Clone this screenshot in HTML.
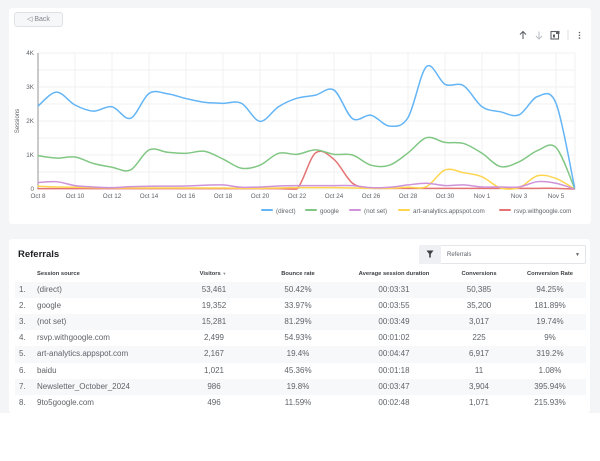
<!DOCTYPE html>
<html><head><meta charset="utf-8">
<style>
*{margin:0;padding:0;box-sizing:border-box}
html,body{width:600px;height:461px;overflow:hidden;background:#fff;font-family:"Liberation Sans",sans-serif}
.bg{position:absolute;left:0;top:0;width:600px;height:413px;background:#f4f5f7}
.card{position:absolute;background:#fff;border-radius:3px}
.abs{position:absolute;white-space:nowrap}
.back{position:absolute;left:14px;top:12px;width:49px;height:15px;border:1px solid #dfe1e5;border-radius:3px;background:#f6f7f9;color:#80868b;font-size:7px;line-height:13px;text-align:center}
.ax{font-size:6.3px;fill:#5f6368;font-family:"Liberation Sans",sans-serif}
.leg{position:absolute;top:208px;font-size:6.3px;color:#5f6368;white-space:nowrap;line-height:8px}
.leg i{display:inline-block;width:12px;height:2px;vertical-align:middle;margin-right:3px;position:relative;top:-1px;border-radius:1px}
.row{position:absolute;left:15px;width:571px;height:16.2px}
.row.s{background:#f7f8fa}
.t{position:absolute;font-size:8px;color:#5f6368;white-space:nowrap;line-height:16px}
.h{position:absolute;font-size:5.8px;font-weight:bold;color:#3c4043;white-space:nowrap;top:271px}
.c{transform:translateX(-50%)}
</style></head><body>
<div class="bg"></div>
<div class="card" style="left:9px;top:8px;width:582px;height:216px"></div>
<div class="card" style="left:9px;top:239px;width:581px;height:174px"></div>

<div class="back">&#9665; Back</div>

<!-- toolbar icons -->
<svg class="abs" style="left:515px;top:28px" width="75" height="15" viewBox="0 0 75 15">
  <g stroke="#5f6368" stroke-width="1.1" fill="none">
    <path d="M8 11 V3.5 M5 6.5 L8 3.5 L11 6.5"/>
  </g>
  <g stroke="#bdc1c6" stroke-width="1.1" fill="none">
    <path d="M24 3.5 V11 M21 8 L24 11 L27 8"/>
  </g>
  <g stroke="#5f6368" stroke-width="1.1" fill="none">
    <rect x="36" y="3.5" width="7.5" height="7.5"/>
  </g>
  <rect x="38" y="6.5" width="2" height="3" fill="#5f6368"/>
  <rect x="41" y="3" width="3.5" height="3" fill="#5f6368"/>
  <line x1="53" y1="2" x2="53" y2="12" stroke="#dadce0" stroke-width="1"/>
  <circle cx="64.5" cy="4.5" r="0.8" fill="#5f6368"/>
  <circle cx="64.5" cy="7.3" r="0.8" fill="#5f6368"/>
  <circle cx="64.5" cy="10.1" r="0.8" fill="#5f6368"/>
</svg>

<!-- chart -->
<svg class="abs" style="left:0;top:0" width="600" height="230" viewBox="0 0 600 230">
  <g stroke="#eeeeee" stroke-width="0.8">
    <line x1="38" x2="575" y1="53" y2="53"/>
    <line x1="38" x2="575" y1="70" y2="70"/>
    <line x1="38" x2="575" y1="87" y2="87"/>
    <line x1="38" x2="575" y1="104" y2="104"/>
    <line x1="38" x2="575" y1="121" y2="121"/>
    <line x1="38" x2="575" y1="138" y2="138"/>
    <line x1="38" x2="575" y1="155" y2="155"/>
    <line x1="38" x2="575" y1="172" y2="172"/>
    <line x1="38" x2="575" y1="189" y2="189"/>
    <g id="vg"></g>
  </g>
  <line x1="38" x2="38" y1="53" y2="189" stroke="#8a8a8a" stroke-width="0.9"/>
  <g class="ax" text-anchor="end">
    <text x="34" y="55">4K</text>
    <text x="34" y="89">3K</text>
    <text x="34" y="123">2K</text>
    <text x="34" y="157">1K</text>
    <text x="34" y="191">0</text>
  </g>
  <text class="ax" transform="translate(19,121) rotate(-90)" text-anchor="middle" style="font-size:6px">Sessions</text>
  <g class="ax" text-anchor="middle" id="xl">
    <text x="38" y="198">Oct 8</text>
    <text x="75" y="198">Oct 10</text>
    <text x="112" y="198">Oct 12</text>
    <text x="149" y="198">Oct 14</text>
    <text x="186" y="198">Oct 16</text>
    <text x="223" y="198">Oct 18</text>
    <text x="260" y="198">Oct 20</text>
    <text x="297" y="198">Oct 22</text>
    <text x="334" y="198">Oct 24</text>
    <text x="371" y="198">Oct 26</text>
    <text x="408" y="198">Oct 28</text>
    <text x="445" y="198">Oct 30</text>
    <text x="482" y="198">Nov 1</text>
    <text x="519" y="198">Nov 3</text>
    <text x="556" y="198">Nov 5</text>
  </g>
  <g fill="none" stroke-width="1.5" stroke-linecap="round" stroke-linejoin="round">
    <path id="p_rsvp" stroke="#e57373"/>
    <path id="p_art" stroke="#ffd54f"/>
    <path id="p_ns" stroke="#ce93d8"/>
    <path id="p_g" stroke="#81c784"/>
    <path id="p_d" stroke="#64b5f6"/>
  </g>
</svg>

<div class="leg" style="left:261px"><i style="background:#64b5f6"></i>(direct)</div>
<div class="leg" style="left:305px"><i style="background:#81c784"></i>google</div>
<div class="leg" style="left:349px"><i style="background:#ce93d8"></i>(not set)</div>
<div class="leg" style="left:398px"><i style="background:#ffd54f"></i>art-analytics.appspot.com</div>
<div class="leg" style="left:499px"><i style="background:#e57373"></i>rsvp.withgoogle.com</div>

<!-- table card -->
<div class="abs" style="left:18px;top:249px;font-size:9.5px;font-weight:bold;color:#202124">Referrals</div>

<div class="abs" style="left:419px;top:245px;width:167px;height:19px;border:1px solid #e3e5e8;border-radius:2px;background:#fff"></div>
<div class="abs" style="left:419px;top:245px;width:22px;height:19px;background:#eef0f3;border-radius:2px 0 0 2px"></div>
<svg class="abs" style="left:425px;top:249px" width="10" height="10" viewBox="0 0 10 10">
  <path d="M1.5 1.5 H8.5 L5.8 5 V8.5 L4.2 8.5 V5 Z" fill="#3c4043"/>
</svg>
<div class="abs" style="left:447px;top:251.5px;font-size:6px;color:#5f6368">Referrals</div>
<div class="abs" style="left:575px;top:252px;font-size:5px;color:#5f6368">&#9660;</div>

<div class="h" style="left:37px">Session source</div>
<div class="h c" style="left:213px">Visitors <span style="font-size:4px;color:#80868b">&#9660;</span></div>
<div class="h c" style="left:298px">Bounce rate</div>
<div class="h c" style="left:394px">Average session duration</div>
<div class="h c" style="left:479px">Conversions</div>
<div class="h c" style="left:550px">Conversion Rate</div>

<div class="row s" style="top:281.6px"></div>
<div class="row" style="top:297.8px"></div>
<div class="row s" style="top:314px"></div>
<div class="row" style="top:330.2px"></div>
<div class="row s" style="top:346.4px"></div>
<div class="row" style="top:362.6px"></div>
<div class="row s" style="top:378.8px"></div>
<div class="row" style="top:395px"></div>

<div id="tbl"></div>

<script>
(function(){
var rows=[
["(direct)","53,461","50.42%","00:03:31","50,385","94.25%"],
["google","19,352","33.97%","00:03:55","35,200","181.89%"],
["(not set)","15,281","81.29%","00:03:49","3,017","19.74%"],
["rsvp.withgoogle.com","2,499","54.93%","00:01:02","225","9%"],
["art-analytics.appspot.com","2,167","19.4%","00:04:47","6,917","319.2%"],
["baidu","1,021","45.36%","00:01:18","11","1.08%"],
["Newsletter_October_2024","986","19.8%","00:03:47","3,904","395.94%"],
["9to5google.com","496","11.59%","00:02:48","1,071","215.93%"]];
var cx=[214,298,394,479,550];
var h="";
for(var i=0;i<rows.length;i++){
  var top=281.6+i*16.2;
  h+='<div class="t" style="left:19px;top:'+top+'px">'+(i+1)+'.</div>';
  h+='<div class="t" style="left:37px;top:'+top+'px">'+rows[i][0]+'</div>';
  for(var j=1;j<6;j++){
    h+='<div class="t c" style="left:'+cx[j-1]+'px;top:'+top+'px">'+rows[i][j]+'</div>';
  }
}
document.getElementById("tbl").innerHTML=h;

var vg="";
for(var k=0;k<=14;k++){var x=38+k*37;vg+='<line x1="'+x+'" x2="'+x+'" y1="53" y2="189"/>';}
vg+='<line x1="575" x2="575" y1="53" y2="189"/>';
document.getElementById("vg").innerHTML=vg;

function path(vals){
  var p=vals.map(function(v,i){return [38+i*18.5,189-v*0.034];});
  var d="M"+p[0][0].toFixed(2)+" "+p[0][1].toFixed(2);
  for(var i=0;i<p.length-1;i++){
    var p0=p[i-1]||p[i],p1=p[i],p2=p[i+1],p3=p[i+2]||p2;
    var c1x=p1[0]+(p2[0]-p0[0])/6,c1y=Math.min(189.5,p1[1]+(p2[1]-p0[1])/6);
    var c2x=p2[0]-(p3[0]-p1[0])/6,c2y=Math.min(189.5,p2[1]-(p3[1]-p1[1])/6);
    d+=" C"+c1x.toFixed(2)+" "+c1y.toFixed(2)+" "+c2x.toFixed(2)+" "+c2y.toFixed(2)+" "+p2[0].toFixed(2)+" "+p2[1].toFixed(2);
  }
  return d;
}
var D={
p_d:[2440,2850,2470,2290,2420,2080,2810,2800,2660,2550,2520,2520,1990,2420,2670,2760,2910,2070,2170,1850,2100,3600,3080,3040,2420,2270,2180,2720,2520,60],
p_g:[980,910,940,750,640,560,1150,1080,1050,1110,880,610,700,1050,1020,1150,1020,1000,700,700,1060,1510,1370,1340,1050,660,800,1130,1220,30],
p_ns:[190,215,100,60,40,70,80,85,90,110,120,50,60,90,100,100,100,100,40,50,120,170,100,120,60,60,60,215,170,0],
p_art:[80,60,50,40,30,30,30,30,30,30,30,20,20,30,40,40,40,30,20,20,50,70,560,480,360,30,40,390,310,0],
p_rsvp:[10,10,10,10,10,10,10,10,10,10,10,10,10,10,0,1060,870,170,30,20,20,20,20,20,20,20,20,20,20,0]
};
for(var id in D){document.getElementById(id).setAttribute("d",path(D[id]));}
})();
</script>
</body></html>
